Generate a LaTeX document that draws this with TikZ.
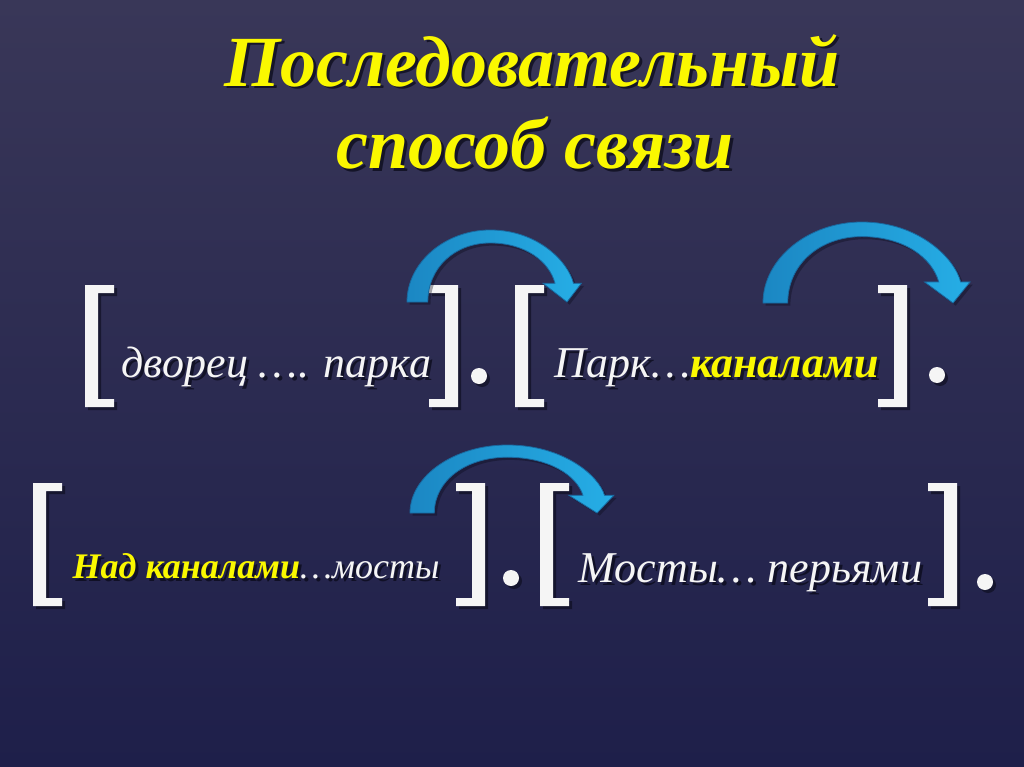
\documentclass[tikz,border=0pt]{standalone}
\usepackage{fontspec}
\setmainfont{Liberation Serif}
\definecolor{bgtop}{RGB}{57,55,88}
\definecolor{bgmid}{RGB}{43,43,80}
\definecolor{bgbot}{RGB}{30,31,74}
\definecolor{amarillo}{RGB}{250,248,0}
\definecolor{blanco}{RGB}{245,245,245}
\definecolor{sombra}{RGB}{8,8,22}
\definecolor{azulosc}{RGB}{27,135,195}
\definecolor{azulcla}{RGB}{38,174,230}
\definecolor{azulbor}{RGB}{25,105,160}
\colorlet{marca}{amarillo}
\newcommand\hl[1]{{\color{marca}\bfseries #1}}
% corchetes: x, y arriba, alto
\newcommand\brOpen[3]{%
  \fill[sombra,opacity=.55,shift={(3,3)}] (#1,#2) -- ++(29,0) -- ++(0,8) -- ++(-16,0) -- ++(0,#3-16) -- ++(16,0) -- ++(0,8) -- ++(-29,0) -- cycle;
  \fill[blanco] (#1,#2) -- ++(29,0) -- ++(0,8) -- ++(-16,0) -- ++(0,#3-16) -- ++(16,0) -- ++(0,8) -- ++(-29,0) -- cycle;}
\newcommand\brClose[3]{%
  \fill[sombra,opacity=.55,shift={(3,3)}] (#1,#2) -- ++(-29,0) -- ++(0,8) -- ++(16,0) -- ++(0,#3-16) -- ++(-16,0) -- ++(0,8) -- ++(29,0) -- cycle;
  \fill[blanco] (#1,#2) -- ++(-29,0) -- ++(0,8) -- ++(16,0) -- ++(0,#3-16) -- ++(-16,0) -- ++(0,8) -- ++(29,0) -- cycle;}
\newcommand\punto[2]{%
  \fill[sombra,opacity=.55] (#1+3,#2+3) circle (8);
  \fill[blanco] (#1,#2) circle (8);}
% flecha curva en unidades: cola (0,0), punta (1,0), arriba y=1
\newcommand\arrowpath{(0,0) .. controls (0,0.55) and (0.24,1) .. (0.52,1)
  .. controls (0.82,1) and (1.01,0.55) .. (1.04,0.26) -- (1.09,0.26) -- (1,0) -- (0.85,0.26) -- (0.925,0.26)
  .. controls (0.89,0.56) and (0.74,0.82) .. (0.52,0.82)
  .. controls (0.3,0.82) and (0.13,0.48) .. (0.13,0) -- cycle}
\newcommand\bendarrow[3]{%
  \begin{scope}[shift={(#1)},x=#2*0.75pt,y=#3*0.75pt]
    \fill[sombra,opacity=.35,shift={(2pt,-2pt)}] \arrowpath;
    \shade[left color=azulosc,right color=azulcla,draw=azulbor,line width=.6pt] \arrowpath;
  \end{scope}}
\newcommand\shnode[4][]{%
  \node[#1,sombrado] (#2s) at (#3) {#4};
  \node[#1] (#2) at (#3) {#4};}
\tikzset{
  titulo/.style={anchor=base,text=amarillo,font=\fontsize{54}{60}\selectfont\bfseries\itshape},
  frase/.style={anchor=base west,text=blanco,font=\fontsize{33}{40}\selectfont\itshape},
  frasechica/.style={frase,font=\fontsize{27}{34}\selectfont\itshape},
  sombrado/.style={text=sombra,text opacity=.7,shift={(3,3)},execute at begin node={\colorlet{marca}{sombra}}},
}
\begin{document}
\begin{tikzpicture}[x=0.75pt,y=-0.75pt]
  \useasboundingbox (0,0) rectangle (1024,767);
  \shade[top color=bgtop,middle color=bgmid,bottom color=bgbot] (0,0) rectangle (1024,767);
  % titulo
  \shnode[titulo]{title1}{532,86}{Последовательный}
  \shnode[titulo]{title2}{535,168}{способ связи}
  % primera fila
  \brOpen{85}{285}{122}
  \shnode[frase]{txtA}{117,377}{дворец …. парка}
  \brClose{458}{285}{122}
  \punto{479}{376}
  \brOpen{515}{285}{122}
  \shnode[frase]{txtB}{550,377}{Парк…\hl{каналами}}
  \brClose{907}{285}{122}
  \punto{937}{375}
  % segunda fila
  \brOpen{33}{483}{123}
  \shnode[frasechica]{txtC}{68,578}{\hl{Над каналами}…мосты}
  \brClose{485}{483}{123}
  \punto{511}{578}
  \brOpen{540}{483}{123}
  \shnode[frase]{txtD}{574,582}{Мосты… перьями}
  \brClose{957}{483}{123}
  \punto{985}{582}
  % flechas
  \coordinate (arA) at (407,302);
  \coordinate (arB) at (763,303);
  \coordinate (arC) at (410,513);
  \bendarrow{arA}{160}{72}
  \bendarrow{arB}{190}{81}
  \bendarrow{arC}{187}{68}
\end{tikzpicture}
\end{document}
